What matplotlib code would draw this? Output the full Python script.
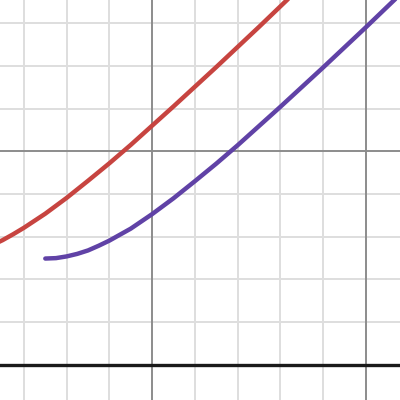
import numpy as np
from matplotlib import pyplot as plt

# points (grid units, one minor square = 1, y-axis off to the left)
red_x = [1.0, 1.25, 1.5, 1.75, 2.0, 2.5, 3.0, 3.5, 4.0, 4.5, 5.0, 5.5, 6.0, 6.5, 7.0, 7.5, 8.0, 8.5]
red_y = [2.70, 2.80, 2.92, 3.06, 3.21, 3.54, 3.91, 4.31, 4.72, 5.15, 5.60, 6.05, 6.51, 6.97,
         7.44, 7.91, 8.39, 8.87]

purple_x = [2.5, 2.75, 3.0, 3.25, 3.5, 3.75, 4.0, 4.5, 5.0, 5.5, 6.0, 6.5, 7.0, 7.5,
            8.0, 8.5, 9.0, 9.5, 10.0, 10.5, 11.0]
purple_y = [2.49, 2.50, 2.54, 2.60, 2.68, 2.79, 2.91, 3.19, 3.53, 3.90, 4.30, 4.71, 5.14, 5.59,
            6.04, 6.50, 6.96, 7.43, 7.90, 8.38, 8.86]

xlim = (1.44, 10.80)
ylim = (-0.82, 8.54)

fig = plt.figure(figsize=(4, 4), dpi=100)
ax = fig.add_axes([0, 0, 1, 1])
ax.set_xlim(xlim)
ax.set_ylim(ylim)
ax.axis('off')

# grid: minor every 1, major every 5, x-axis at y=0
for gx in np.arange(2, 11):
    major = gx % 5 == 0
    ax.axvline(gx, color='#8c8c8c' if major else '#dedede', lw=1.4, zorder=1 if major else 0)
for gy in np.arange(1, 9):
    major = gy % 5 == 0
    ax.axhline(gy, color='#8c8c8c' if major else '#dedede', lw=1.4, zorder=1 if major else 0)
ax.axhline(0, color='#1a1a1a', lw=2.4, zorder=2)

ax.plot(red_x, red_y, color='#c74440', lw=3.2, solid_capstyle='round', solid_joinstyle='round', zorder=3)
ax.plot(purple_x, purple_y, color='#6042a6', lw=3.2, solid_capstyle='round', solid_joinstyle='round', zorder=3)

fig.savefig('out.png', dpi=100)
